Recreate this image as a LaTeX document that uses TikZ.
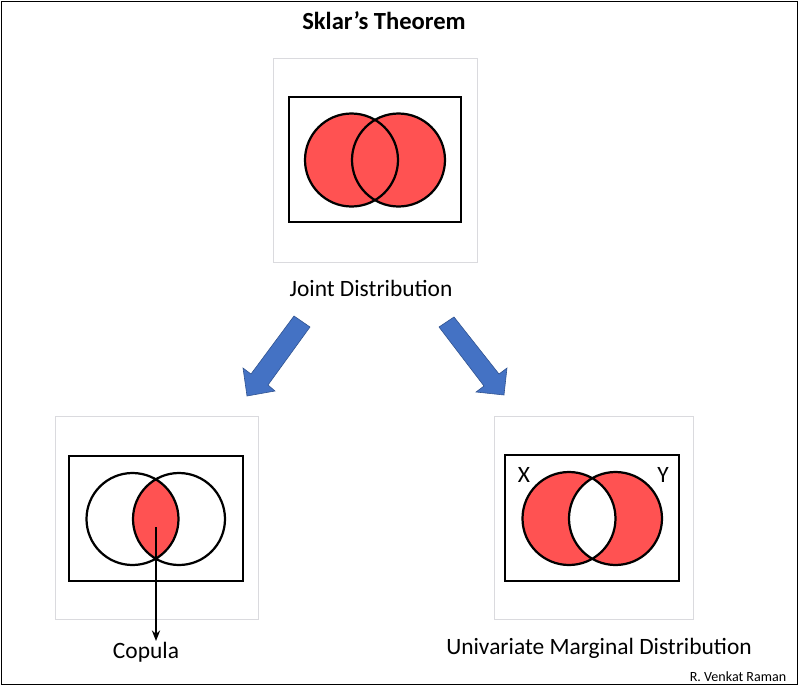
\documentclass[tikz,border=0pt]{standalone}
\usepackage{fontspec}
\setmainfont{Carlito}
\usepackage{xcolor}
\usetikzlibrary{arrows.meta}
\definecolor{venncol}{RGB}{255,82,82}
\definecolor{arrowcol}{RGB}{68,114,196}
\definecolor{arrowedge}{RGB}{47,82,143}
\definecolor{framecol}{RGB}{218,218,222}

\begin{document}
\begin{tikzpicture}[x=0.03cm, y=-0.03cm,
  every node/.style={font=\fontsize{20}{24}\selectfont},
  panel/.style={draw=framecol, line width=0.6pt},
  box/.style={draw=black, line width=2.1pt},
  ring/.style={draw=black, line width=1.9pt},
  bigarrow/.style={fill=arrowcol, draw=arrowedge, line width=0.5pt}]
  \useasboundingbox (0,0) rectangle (798,686);
  \draw[line width=0.7pt] (1,1) rectangle (797,684);
  \node[font=\fontsize{21}{25}\selectfont\bfseries] (title) at (384,21) {Sklar’s Theorem};

  % joint distribution
  \draw[panel] (273,58) rectangle (477,262);
  \draw[box] (289,97) rectangle (461,222);
  \fill[venncol] (351.5,160) circle (46.5) (398.5,160) circle (46.5);
  \draw[ring] (351.5,160) circle (46.5) (398.5,160) circle (46.5);
  \node (joint) at (371,288) {Joint Distribution};

  % arrows
  \draw[bigarrow] (294,316) -- (310,327) -- (268,385) -- (275,391) -- (247,396)
    -- (243,368) -- (251,374) -- cycle;
  \draw[bigarrow] (439,327) -- (454,317) -- (499,374) -- (507,368) -- (504,395)
    -- (476,392) -- (484,386) -- cycle;

  % copula
  \draw[panel] (55,416) rectangle (258,619);
  \draw[box] (69,456) rectangle (243,581);
  \begin{scope}
    \clip (132.5,519) circle (46);
    \fill[venncol] (179,519) circle (46);
  \end{scope}
  \draw[ring] (132.5,519) circle (46) (179,519) circle (46);
  \coordinate (lens) at (156,527);
  \node (copula) at (146,652) {Copula};
  \draw[-{Stealth[length=9pt,width=7pt]}, line width=1.9pt] (lens) -- (156,641);

  % marginals
  \draw[panel] (494,416) rectangle (693,619);
  \draw[box] (505,455) rectangle (679,581);
  \fill[venncol, even odd rule] (569,518.5) circle (46.5) (615.5,518.5) circle (46.5);
  \draw[ring] (569,518.5) circle (46.5) (615.5,518.5) circle (46.5);
  \node (xlab) at (524,475) {X};
  \node (ylab) at (663,475) {Y};
  \node (marginal) at (599,648) {Univariate Marginal Distribution};

  \node[font=\fontsize{12}{14}\selectfont] (author) at (738,677) {R. Venkat Raman};
\end{tikzpicture}
\end{document}
